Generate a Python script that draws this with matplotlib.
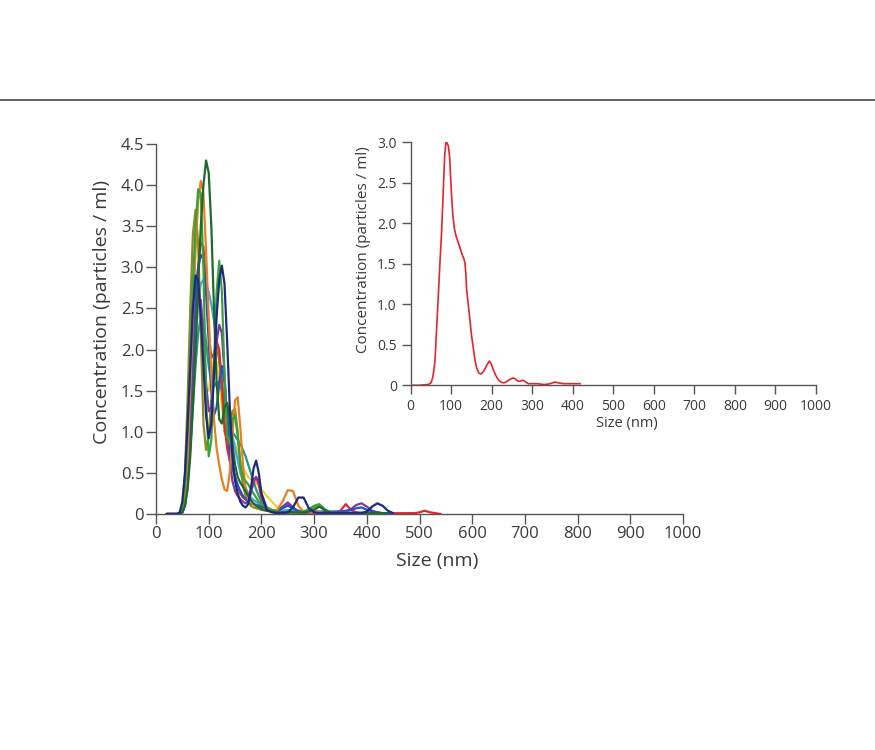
import numpy as np
import matplotlib
matplotlib.use("Agg")
import matplotlib.pyplot as plt
from matplotlib.lines import Line2D

plt.rcParams['font.family'] = ['Open Sans', 'DejaVu Sans']

N = None
size_nm = [20, 30, 40, 45, 50, 55, 60, 65, 70, 75,
           80, 85, 90, 95, 100, 105, 110, 115, 120, 125,
           130, 135, 140, 145, 150, 155, 160, 165, 170, 175,
           180, 185, 190, 195, 200, 210, 220, 230, 240, 250,
           260, 270, 280, 290, 300, 310, 320, 330, 340, 350,
           360, 370, 380, 390, 400, 410, 420, 430, 440, 450,
           460, 470, 480, 490, 500, 510, 520, 530, 540]

conc_yellow = [0, 0, 0, 0, 0.02, 0.15, 0.6, 1.3, 2.0, 2.5,
               2.6, 2.3, 1.8, 1.5, 1.5, 1.7, 1.9, 1.85, 1.6, 1.3,
               1.1, 1.0, 0.95, 0.9, 0.85, 0.75, 0.65, 0.55, 0.5, 0.45,
               0.42, 0.4, 0.38, 0.35, 0.3, 0.22, 0.15, 0.08, 0.04, 0.03,
               0.02, 0.02, 0.02, 0.02, 0.02, 0.02, 0.02, 0.01, 0.01, 0.01,
               0.01, 0.01, 0.01, 0.01, 0.01, 0, N, N, N, N,
               N, N, N, N, N, N, N, N, N]
conc_lightblue = [0, 0, 0, 0, 0.02, 0.1, 0.4, 0.9, 1.5, 2.1,
                  2.55, 2.8, 2.85, 2.8, 2.7, 2.55, 2.35, 2.1, 1.85, 1.6,
                  1.4, 1.25, 1.1, 0.95, 0.8, 0.65, 0.5, 0.4, 0.32, 0.25,
                  0.2, 0.17, 0.15, 0.12, 0.1, 0.07, 0.05, 0.04, 0.04, 0.05,
                  0.04, 0.03, 0.02, 0.02, 0.02, 0.02, 0.02, 0.02, 0.02, 0.02,
                  0.02, 0.02, 0.02, 0.02, 0.02, 0.01, 0.01, 0.01, 0, N,
                  N, N, N, N, N, N, N, N, N]
conc_teal = [0, 0, 0, 0, 0.02, 0.1, 0.35, 0.8, 1.3, 1.8,
             2.2, 2.4, 2.35, 2.1, 1.8, 1.6, 1.55, 1.6, 1.6, 1.5,
             1.35, 1.2, 1.1, 1.0, 0.95, 0.9, 0.85, 0.78, 0.7, 0.6,
             0.5, 0.4, 0.3, 0.22, 0.15, 0.08, 0.04, 0.02, 0.02, 0.02,
             0.02, 0.02, 0.02, 0.02, 0.02, 0.02, 0.01, 0.01, 0.01, 0.01,
             0.01, 0.01, 0.01, 0.01, 0.01, 0, N, N, N, N,
             N, N, N, N, N, N, N, N, N]
conc_olive = [0, 0, 0, 0, 0.08, 0.5, 1.4, 2.5, 3.4, 3.7,
              3.3, 2.2, 1.1, 0.78, 0.95, 1.4, 1.8, 2.0, 1.9, 1.5,
              1.0, 0.9, 1.05, 1.25, 1.28, 1.0, 0.6, 0.35, 0.22, 0.15,
              0.1, 0.08, 0.07, 0.06, 0.05, 0.04, 0.03, 0.02, 0.02, 0.02,
              0.02, 0.02, 0.02, 0.04, 0.08, 0.1, 0.05, 0.02, 0.01, 0.01,
              0.01, 0.01, 0.01, 0.01, 0.01, 0, N, N, N, N,
              N, N, N, N, N, N, N, N, N]
conc_red = [0, 0, 0, 0, 0.02, 0.15, 0.5, 1.1, 1.8, 2.5,
            3.0, 3.3, 3.25, 2.8, 2.2, 1.9, 1.95, 2.1, 2.0, 1.6,
            1.1, 0.8, 0.65, 0.55, 0.45, 0.35, 0.25, 0.2, 0.18, 0.2,
            0.3, 0.42, 0.45, 0.35, 0.2, 0.07, 0.03, 0.03, 0.08, 0.13,
            0.08, 0.02, 0.01, 0.01, 0.01, 0.01, 0.01, 0.01, 0.02, 0.04,
            0.12, 0.05, 0.02, 0.01, 0.01, 0.01, 0.01, 0.01, 0.01, 0.01,
            0.01, 0.01, 0.01, 0.01, 0.02, 0.04, 0.02, 0.01, 0]
conc_purple = [0, 0, 0, 0, 0.02, 0.12, 0.45, 1.0, 1.7, 2.3,
               2.65, 2.6, 2.2, 1.6, 1.25, 1.3, 1.7, 2.1, 2.3, 2.2,
               1.7, 1.1, 0.65, 0.4, 0.28, 0.22, 0.18, 0.15, 0.13, 0.15,
               0.25, 0.38, 0.45, 0.4, 0.25, 0.08, 0.03, 0.03, 0.09, 0.14,
               0.08, 0.02, 0.01, 0.01, 0.01, 0.01, 0.01, 0.01, 0.01, 0.02,
               0.03, 0.06, 0.11, 0.13, 0.09, 0.04, 0.02, 0.01, 0.01, 0,
               N, N, N, N, N, N, N, N, N]
conc_blue = [0, 0, 0, 0, 0.03, 0.2, 0.7, 1.4, 2.1, 2.7,
             3.0, 3.15, 3.1, 2.7, 2.1, 1.5, 1.2, 1.3, 1.6, 1.8,
             1.6, 1.2, 0.85, 0.6, 0.45, 0.35, 0.28, 0.22, 0.18, 0.15,
             0.13, 0.12, 0.11, 0.1, 0.09, 0.06, 0.04, 0.04, 0.07, 0.1,
             0.07, 0.04, 0.03, 0.03, 0.03, 0.03, 0.03, 0.03, 0.03, 0.03,
             0.04, 0.05, 0.07, 0.08, 0.05, 0.03, 0.02, 0.01, 0.01, 0,
             N, N, N, N, N, N, N, N, N]
conc_orange = [0, 0, 0, 0, 0.03, 0.2, 0.7, 1.5, 2.4, 3.2,
               3.8, 4.05, 3.9, 3.2, 2.4, 1.7, 1.15, 0.8, 0.6, 0.42,
               0.3, 0.28, 0.5, 0.95, 1.38, 1.42, 1.05, 0.6, 0.3, 0.18,
               0.14, 0.12, 0.1, 0.08, 0.06, 0.05, 0.04, 0.05, 0.15, 0.29,
               0.28, 0.1, 0.03, 0.02, 0.02, 0.02, 0.01, 0.01, 0.01, 0.01,
               0.01, 0.01, 0.01, 0.01, 0.01, 0.01, 0, N, N, N,
               N, N, N, N, N, N, N, N, N]
conc_green = [0, 0, 0, 0, 0.05, 0.35, 1.0, 1.9, 2.8, 3.5,
              3.95, 3.9, 3.0, 1.4, 0.7, 0.9, 1.8, 2.7, 3.08, 2.7,
              1.7, 0.95, 0.85, 1.15, 1.2, 0.95, 0.6, 0.45, 0.4, 0.36,
              0.3, 0.25, 0.2, 0.15, 0.12, 0.08, 0.05, 0.03, 0.02, 0.02,
              0.02, 0.02, 0.03, 0.06, 0.1, 0.12, 0.06, 0.02, 0.01, 0.01,
              0.01, 0.01, 0.01, 0.01, 0.01, 0.01, 0.01, 0, N, N,
              N, N, N, N, N, N, N, N, N]
conc_darkgreen = [0, 0, 0, 0, 0.02, 0.1, 0.3, 0.7, 1.3, 2.0,
                  2.8, 3.5, 4.0, 4.3, 4.15, 3.5, 2.5, 1.6, 1.15, 1.1,
                  1.3, 1.35, 1.15, 0.85, 0.6, 0.45, 0.38, 0.33, 0.28, 0.22,
                  0.17, 0.13, 0.1, 0.08, 0.06, 0.04, 0.03, 0.02, 0.02, 0.02,
                  0.02, 0.02, 0.02, 0.03, 0.05, 0.09, 0.05, 0.02, 0.01, 0.01,
                  0.01, 0.01, 0.01, 0.01, 0.01, 0.01, 0.01, 0.01, 0, N,
                  N, N, N, N, N, N, N, N, N]
conc_navy = [0, 0, 0, 0.02, 0.15, 0.5, 1.1, 1.8, 2.5, 2.9,
             2.85, 2.4, 1.8, 1.2, 0.92, 1.1, 1.7, 2.4, 2.85, 3.02,
             2.8, 2.1, 1.3, 0.7, 0.4, 0.25, 0.15, 0.1, 0.08, 0.12,
             0.3, 0.55, 0.65, 0.5, 0.25, 0.05, 0.02, 0.01, 0.01, 0.02,
             0.08, 0.2, 0.2, 0.07, 0.02, 0.01, 0.01, 0.01, 0.01, 0.01,
             0.01, 0.01, 0.01, 0.01, 0.03, 0.09, 0.13, 0.1, 0.04, 0.01,
             N, N, N, N, N, N, N, N, N]

series = [
    (conc_yellow, '#E9D12C'),
    (conc_lightblue, '#3FA6E4'),
    (conc_teal, '#1F9C86'),
    (conc_olive, '#8E8B1F'),
    (conc_red, '#E2262A'),
    (conc_purple, '#7B3D9C'),
    (conc_blue, '#2452C8'),
    (conc_orange, '#E8801E'),
    (conc_green, '#3AA13A'),
    (conc_darkgreen, '#1D6B2A'),
    (conc_navy, '#1E2A7E'),
]

inset_size = [0, 20, 43.6, 50, 54, 57, 60, 64, 68, 72, 76.5, 80, 84, 87, 90,
              93, 96, 98, 101, 104, 108, 112, 117, 122, 128, 132, 134, 136,
              138, 142, 146, 150, 155, 159, 163, 168, 173, 178, 183, 188, 194,
              199, 204, 210, 216, 222, 229, 235, 241, 247, 253, 258, 262, 266,
              270, 274, 278, 284, 290, 300, 311, 320, 327, 335, 344, 350, 356,
              365, 377, 395, 418]
inset_conc = [0, 0, 0.01, 0.03, 0.09, 0.18, 0.31, 0.7, 1.09, 1.5, 1.92, 2.35,
              2.85, 3.0, 2.99, 2.95, 2.82, 2.62, 2.33, 2.1, 1.93, 1.84, 1.77,
              1.69, 1.6, 1.55, 1.5, 1.38, 1.18, 1.0, 0.81, 0.62, 0.44, 0.3,
              0.21, 0.15, 0.14, 0.16, 0.2, 0.25, 0.3, 0.26, 0.19, 0.12, 0.07,
              0.04, 0.03, 0.04, 0.06, 0.08, 0.09, 0.08, 0.06, 0.05, 0.05, 0.06,
              0.06, 0.04, 0.02, 0.02, 0.02, 0.015, 0.01, 0.012, 0.02, 0.03,
              0.04, 0.03, 0.02, 0.02, 0.02]

main_xticks = [0, 100, 200, 300, 400, 500, 600, 700, 800, 900, 1000]
main_yticks = [0, 0.5, 1.0, 1.5, 2.0, 2.5, 3.0, 3.5, 4.0, 4.5]
main_yticklabels = ['0', '0.5', '1.0', '1.5', '2.0', '2.5', '3.0', '3.5', '4.0', '4.5']
inset_yticks = [0, 0.5, 1.0, 1.5, 2.0, 2.5, 3.0]
inset_yticklabels = ['0', '0.5', '1.0', '1.5', '2.0', '2.5', '3.0']
xlabel = 'Size (nm)'
ylabel = 'Concentration (particles / ml)'

TXT = '#3a3a3a'
AX = '#555555'

fig = plt.figure(figsize=(8.75, 7.5), dpi=100)
fig.patch.set_facecolor('white')

fig.add_artist(Line2D([0, 1], [1 - 100 / 750, 1 - 100 / 750], transform=fig.transFigure,
                      color='#444444', lw=1.2))


def style(ax, fs, xlfs, ylfs, tl, pad):
    for s in ['top', 'right']:
        ax.spines[s].set_visible(False)
    for s in ['left', 'bottom']:
        ax.spines[s].set_color(AX)
        ax.spines[s].set_linewidth(1.0)
    ax.tick_params(direction='out', length=tl, width=1.0, color=AX,
                   labelcolor=TXT, labelsize=fs, pad=pad)
    ax.set_xlabel(xlabel, fontsize=xlfs, color=TXT)
    ax.set_ylabel(ylabel, fontsize=ylfs, color=TXT)


ax = fig.add_axes([156 / 875, 1 - 514 / 750, 527 / 875, 370 / 750])
x = np.array(size_nm, dtype=float)
for vals, c in series:
    y = np.array([np.nan if v is None else v for v in vals], dtype=float)
    ax.plot(x, y, color=c, lw=1.6, solid_joinstyle='round', solid_capstyle='round')
ax.set_xlim(0, 1000)
ax.set_ylim(0, 4.5)
ax.set_xticks(main_xticks)
ax.set_xticklabels([str(t) for t in main_xticks])
ax.set_yticks(main_yticks)
ax.set_yticklabels(main_yticklabels)
style(ax, 12, 14, 14, 7, 1.5)
ax.xaxis.set_label_coords(0.533, -0.102)
ax.yaxis.set_label_coords(-0.086, 0.546)

ax2 = fig.add_axes([410.7 / 875, 1 - 385.3 / 750, 405.3 / 875, 243 / 750])
ax2.plot(inset_size, inset_conc, color='#E8232B', lw=1.2)
ax2.set_xlim(0, 1000)
ax2.set_ylim(0, 3.0)
ax2.set_xticks(main_xticks)
ax2.set_xticklabels([str(t) for t in main_xticks])
ax2.set_yticks(inset_yticks)
ax2.set_yticklabels(inset_yticklabels)
style(ax2, 10, 10.5, 11, 6.5, 3.5)
ax2.xaxis.set_label_coords(0.534, -0.125)
ax2.yaxis.set_label_coords(-0.098, 0.557)
ax2.patch.set_alpha(0)

fig.savefig('out.png', dpi=100, facecolor='white')
